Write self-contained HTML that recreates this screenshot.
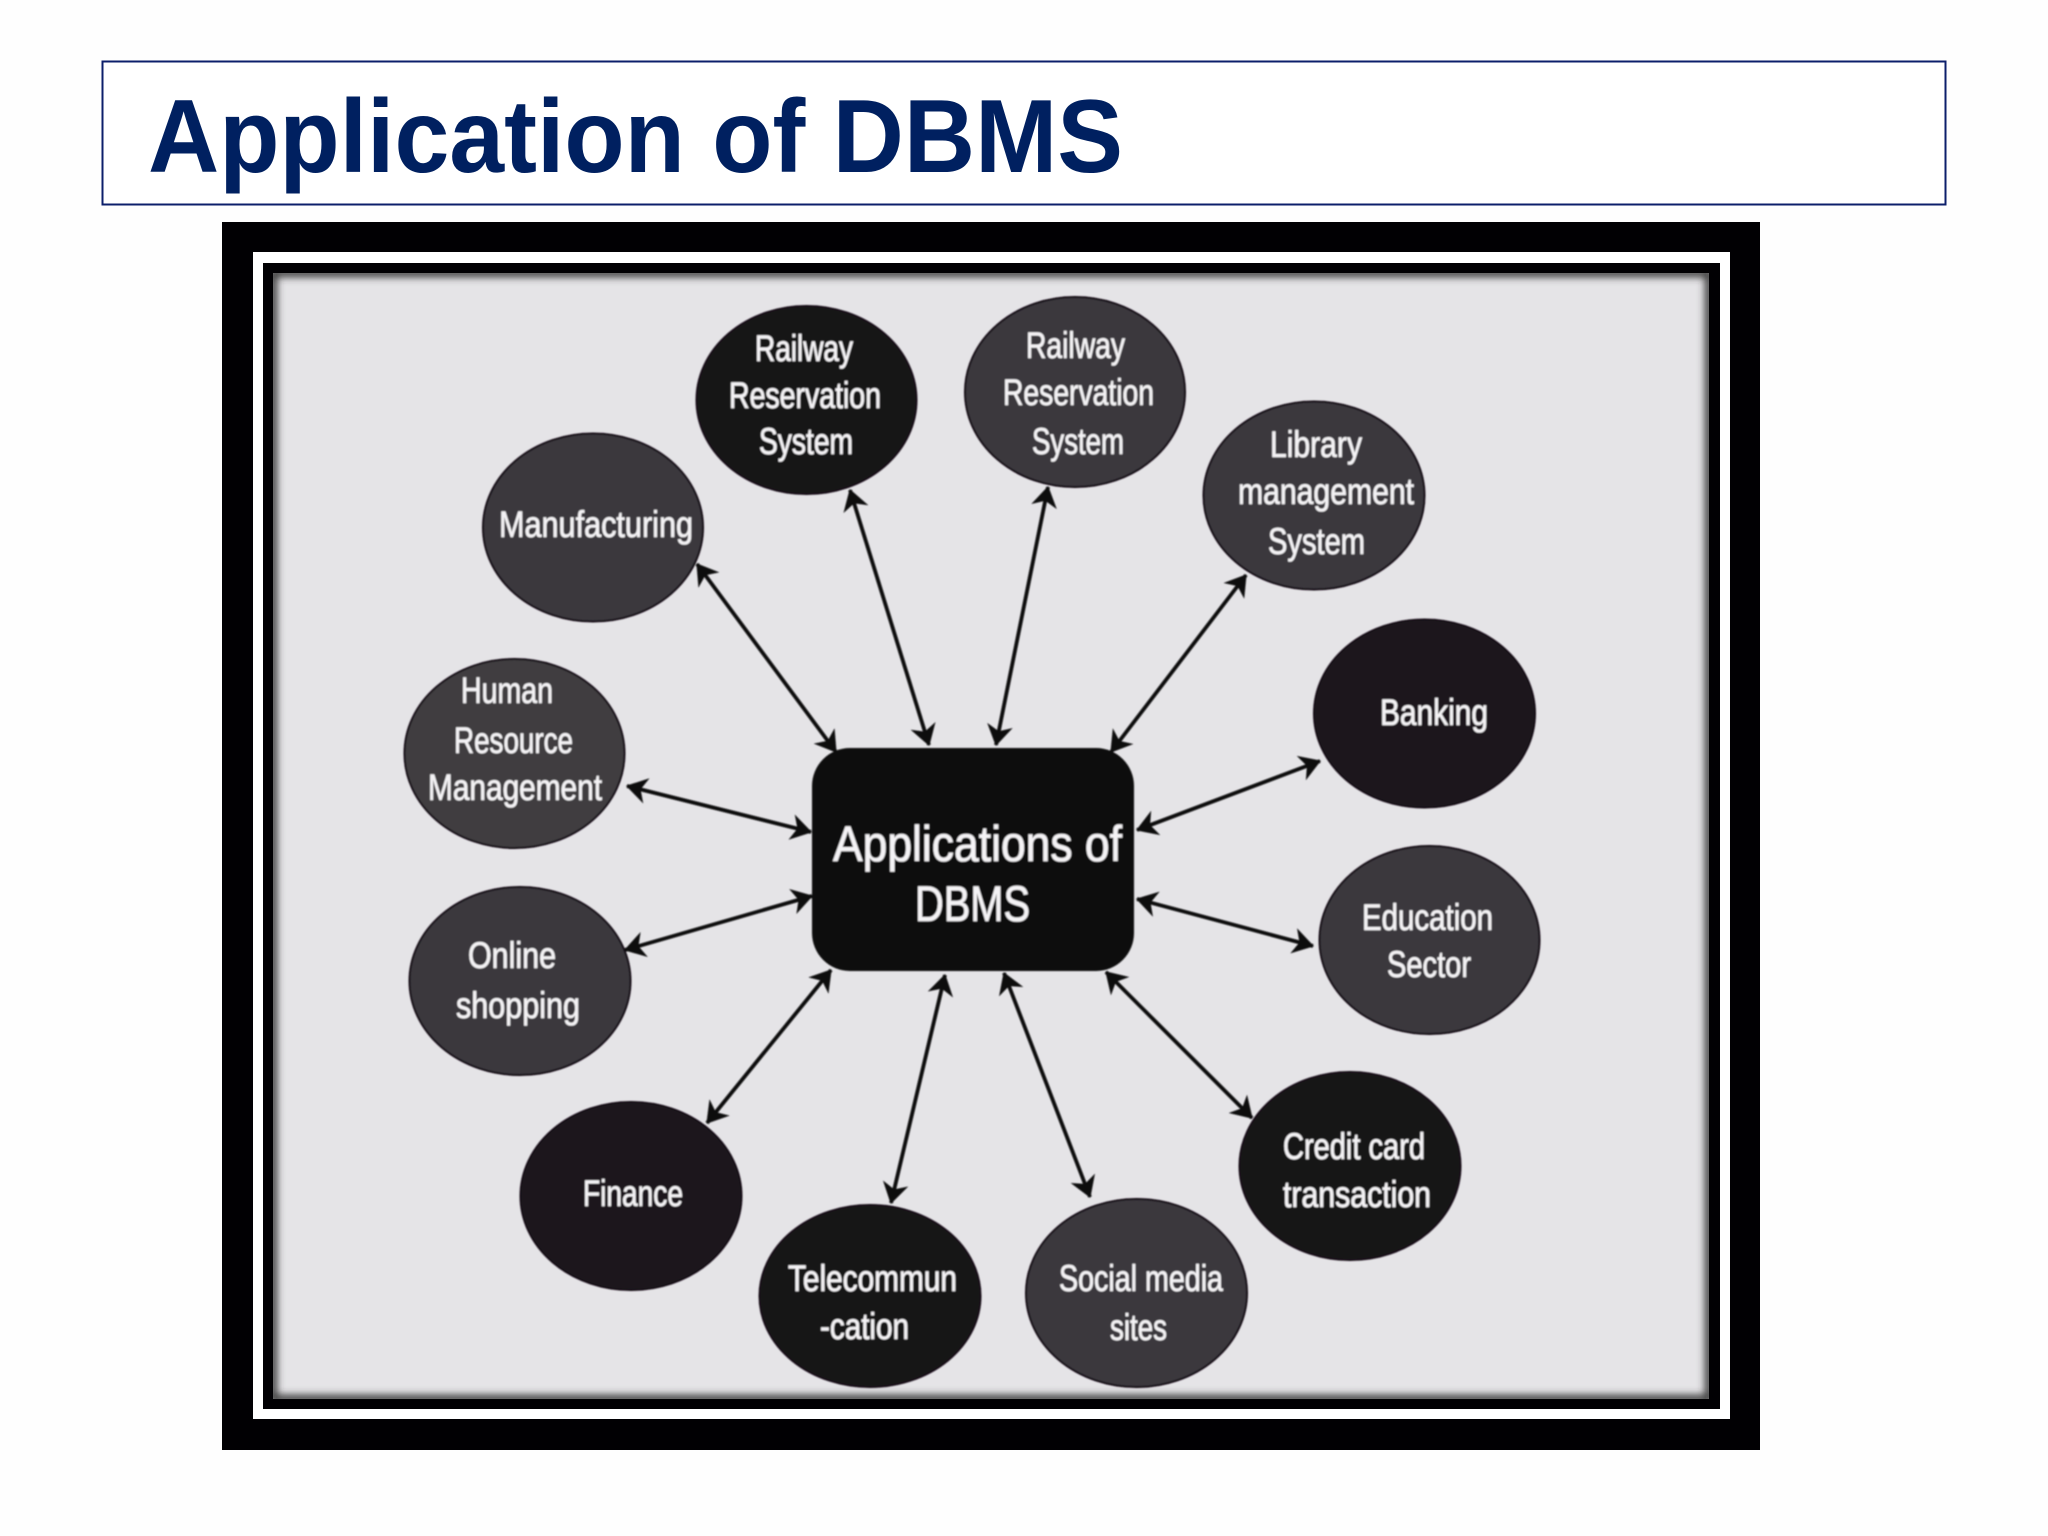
<!DOCTYPE html>
<html><head><meta charset="utf-8"><style>
html,body{margin:0;padding:0;background:#fefefe;width:2048px;height:1536px;overflow:hidden}
svg{display:block}
text{font-family:"Liberation Sans",sans-serif}
.t{fill:#f4f3f5;font-size:37px;stroke:#f4f3f5;stroke-width:.6px}
</style></head><body>
<svg width="2048" height="1536" viewBox="0 0 2048 1536" xmlns="http://www.w3.org/2000/svg">
<defs>
<filter id="b" x="-5%" y="-5%" width="110%" height="110%"><feGaussianBlur stdDeviation="0.7"/></filter>
<filter id="s" x="-5%" y="-5%" width="110%" height="110%"><feGaussianBlur stdDeviation="4"/></filter>
<marker id="a" viewBox="0 0 22 28" refX="21" refY="14" markerUnits="userSpaceOnUse" markerWidth="22" markerHeight="28" orient="auto-start-reverse"><path d="M1 1L22 14L1 27L7 14Z" fill="#0d0c0e"/></marker>
<clipPath id="c"><rect x="273" y="273" width="1436" height="1126"/></clipPath>
</defs>
<rect width="2048" height="1536" fill="#fefefe"/>
<rect x="102.5" y="61.5" width="1843" height="143" fill="#fff" stroke="#0c1f6b" stroke-width="2"/>
<text x="148" y="172" font-size="104" font-weight="700" fill="#002060" textLength="975" lengthAdjust="spacingAndGlyphs">Application of DBMS</text>
<rect x="222" y="222" width="1538" height="1228" fill="#010003"/>
<rect x="253" y="252" width="1477" height="1167" fill="#fff"/>
<rect x="263" y="263" width="1457" height="1146" fill="#010003"/>
<rect x="273" y="273" width="1436" height="1126" fill="#e5e4e7"/>
<g clip-path="url(#c)"><rect x="273" y="273" width="1436" height="1126" fill="none" stroke="#333" stroke-width="8" filter="url(#s)"/></g>
<g filter="url(#b)">
<g stroke="#0d0c0e" stroke-width="3.8" fill="none">
<line x1="697" y1="564" x2="836" y2="752" marker-start="url(#a)" marker-end="url(#a)"/>
<line x1="850" y1="490" x2="929" y2="745" marker-start="url(#a)" marker-end="url(#a)"/>
<line x1="1048" y1="487" x2="996" y2="745" marker-start="url(#a)" marker-end="url(#a)"/>
<line x1="1246" y1="575" x2="1111" y2="752" marker-start="url(#a)" marker-end="url(#a)"/>
<line x1="1320" y1="761" x2="1137" y2="830" marker-start="url(#a)" marker-end="url(#a)"/>
<line x1="1313" y1="946" x2="1137" y2="899" marker-start="url(#a)" marker-end="url(#a)"/>
<line x1="1252" y1="1118" x2="1106" y2="972" marker-start="url(#a)" marker-end="url(#a)"/>
<line x1="1090" y1="1197" x2="1004" y2="973" marker-start="url(#a)" marker-end="url(#a)"/>
<line x1="891" y1="1203" x2="945" y2="975" marker-start="url(#a)" marker-end="url(#a)"/>
<line x1="707" y1="1123" x2="831" y2="970" marker-start="url(#a)" marker-end="url(#a)"/>
<line x1="625" y1="950" x2="812" y2="896" marker-start="url(#a)" marker-end="url(#a)"/>
<line x1="627" y1="786" x2="811" y2="832" marker-start="url(#a)" marker-end="url(#a)"/>
</g>
<rect x="812" y="748" width="322" height="223" rx="38" fill="#0f0e10"/>
<g stroke="#131115" stroke-width="2">
<ellipse cx="806.5" cy="400" rx="110" ry="94" fill="#161418"/>
<ellipse cx="1075" cy="392" rx="110" ry="95" fill="#3a383c"/>
<ellipse cx="1314" cy="495.5" rx="110.5" ry="94" fill="#3a383c"/>
<ellipse cx="1424.5" cy="713.5" rx="110.5" ry="94" fill="#1a181c"/>
<ellipse cx="1429.5" cy="940" rx="110" ry="94" fill="#3a383c"/>
<ellipse cx="1350" cy="1166" rx="110.5" ry="94" fill="#161418"/>
<ellipse cx="1136.5" cy="1293" rx="110.5" ry="94" fill="#3a383c"/>
<ellipse cx="870" cy="1296" rx="110.5" ry="91" fill="#161418"/>
<ellipse cx="631" cy="1196" rx="110.5" ry="94" fill="#1a181c"/>
<ellipse cx="520" cy="981" rx="110.5" ry="94" fill="#3a383c"/>
<ellipse cx="514.5" cy="753.5" rx="110" ry="94.5" fill="#3f3d41"/>
<ellipse cx="593" cy="527.5" rx="110" ry="94" fill="#3a383c"/>
</g>
<g>
<text class="t" x="755" y="361" textLength="98" lengthAdjust="spacingAndGlyphs">Railway</text>
<text class="t" x="729" y="408" textLength="152" lengthAdjust="spacingAndGlyphs">Reservation</text>
<text class="t" x="759" y="454" textLength="94" lengthAdjust="spacingAndGlyphs">System</text>
<text class="t" x="1026" y="358" textLength="99" lengthAdjust="spacingAndGlyphs">Railway</text>
<text class="t" x="1003" y="405" textLength="151" lengthAdjust="spacingAndGlyphs">Reservation</text>
<text class="t" x="1032" y="454" textLength="92" lengthAdjust="spacingAndGlyphs">System</text>
<text class="t" x="1270" y="457" textLength="92" lengthAdjust="spacingAndGlyphs">Library</text>
<text class="t" x="1238" y="504" textLength="176" lengthAdjust="spacingAndGlyphs">management</text>
<text class="t" x="1268" y="554" textLength="97" lengthAdjust="spacingAndGlyphs">System</text>
<text class="t" x="1380" y="725" textLength="108" lengthAdjust="spacingAndGlyphs">Banking</text>
<text class="t" x="1362" y="930" textLength="131" lengthAdjust="spacingAndGlyphs">Education</text>
<text class="t" x="1387" y="977" textLength="84" lengthAdjust="spacingAndGlyphs">Sector</text>
<text class="t" x="1283" y="1159" textLength="142" lengthAdjust="spacingAndGlyphs">Credit card</text>
<text class="t" x="1283" y="1207" textLength="148" lengthAdjust="spacingAndGlyphs">transaction</text>
<text class="t" x="1059" y="1291" textLength="164" lengthAdjust="spacingAndGlyphs">Social media</text>
<text class="t" x="1110" y="1340" textLength="57" lengthAdjust="spacingAndGlyphs">sites</text>
<text class="t" x="788" y="1291" textLength="169" lengthAdjust="spacingAndGlyphs">Telecommun</text>
<text class="t" x="820" y="1339" textLength="89" lengthAdjust="spacingAndGlyphs">-cation</text>
<text class="t" x="583" y="1206" textLength="100" lengthAdjust="spacingAndGlyphs">Finance</text>
<text class="t" x="468" y="968" textLength="88" lengthAdjust="spacingAndGlyphs">Online</text>
<text class="t" x="456" y="1018" textLength="124" lengthAdjust="spacingAndGlyphs">shopping</text>
<text class="t" x="461" y="703" textLength="92" lengthAdjust="spacingAndGlyphs">Human</text>
<text class="t" x="454" y="753" textLength="119" lengthAdjust="spacingAndGlyphs">Resource</text>
<text class="t" x="428" y="800" textLength="174" lengthAdjust="spacingAndGlyphs">Management</text>
<text class="t" x="499" y="537" textLength="194" lengthAdjust="spacingAndGlyphs">Manufacturing</text>
<text class="t" x="833" y="861" style="font-size:50px" textLength="289" lengthAdjust="spacingAndGlyphs">Applications of</text>
<text class="t" x="915" y="921" style="font-size:50px" textLength="115" lengthAdjust="spacingAndGlyphs">DBMS</text>
</g>
</g>
</svg>
</body></html>
